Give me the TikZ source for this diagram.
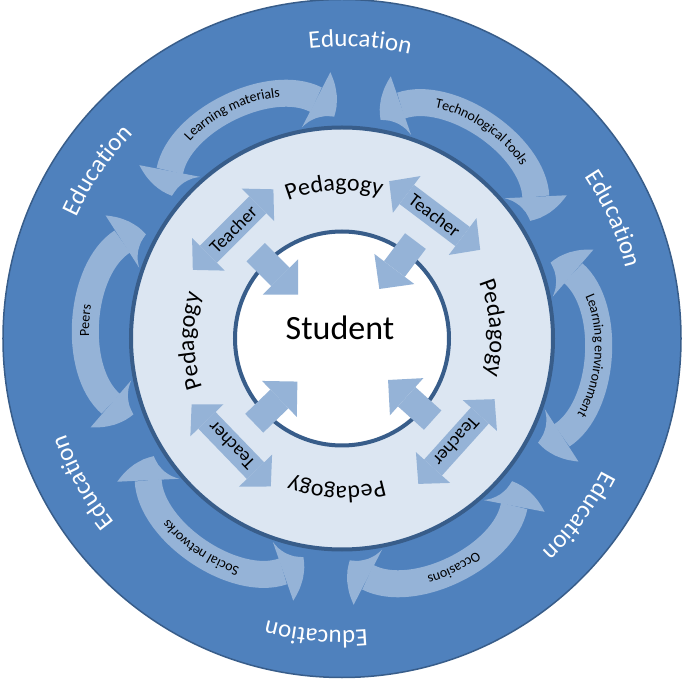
\documentclass[tikz,border=0pt]{standalone}
\usepackage{fontspec}
\setmainfont{Carlito}
\usepackage{xcolor}
\usepackage{tikz}
\usetikzlibrary{arrows.meta, bending, calc, decorations.text}
\definecolor{ringblue}{RGB}{79,129,189}
\definecolor{arrowblue}{RGB}{149,179,215}
\definecolor{paleblue}{RGB}{220,230,242}
\definecolor{edgeblue}{RGB}{56,93,138}

\newcommand{\bowarrow}[2]{%
  \begin{scope}[rotate=#1]
    \draw[bow] (24:222) .. controls (275,84) and (275,-84) .. (-24:222);
    \path[decorate, decoration={text along path, text align=center, raise=-3.8pt,
        text={|\fontsize{14}{16}\selectfont|#2}}]
      (24:222) .. controls (275,84) and (275,-84) .. (-24:222);
  \end{scope}}

\newcommand{\arclabel}[4]{%
  \path[decorate, decoration={text along path, text align=center, text={|#3|#4}}]
    (#1+40:#2) arc [start angle=#1+40, end angle=#1-40, radius=#2];}

\begin{document}
\begin{tikzpicture}[x=1pt, y=1pt,
    bow/.style={arrowblue, line width=27pt,
      {Triangle[width=62pt, length=26pt, line width=0pt, bend]}-{Triangle[width=62pt, length=26pt, line width=0pt, bend]}},
    teacherarrow/.style={arrowblue, line width=24pt,
      {Triangle[width=46pt, length=22pt, line width=0pt]}-{Triangle[width=46pt, length=22pt, line width=0pt]}},
    studentarrow/.style={arrowblue, line width=26pt, -{Triangle[width=50pt, length=25pt, line width=0pt]}}]

  \useasboundingbox (-342,-340.5) rectangle (343,338.5);
  \coordinate (O) at (0,0);

  \draw[edgeblue, fill=ringblue, line width=1.5pt] (O) circle [radius=339];

  \bowarrow{116}{Learning materials}
  \bowarrow{56}{Technological tools}
  \bowarrow{-4}{Learning environment}
  \bowarrow{-64}{Occasions}
  \bowarrow{-124}{Social networks}
  \bowarrow{176}{Peers}

  \foreach \a in {86.5, 145.5, 23.8, -36.9, -95, -151}
    \arclabel{\a}{292}{\color{white}\fontsize{25}{30}\selectfont}{Education};

  \draw[edgeblue, fill=paleblue, line width=4pt] (O) circle [radius=211];

  \foreach \a in {135, 53, -42, -136} {
    \draw[teacherarrow] ($(\a:154)+(\a+90:57)$) -- ($(\a:154)+(\a-90:57)$);
    \node[rotate=\a-90, font=\fontsize{18.5}{22}\selectfont] (teacher\a) at (\a:154) {Teacher};
  }

  \draw[edgeblue, fill=white, line width=4pt] (O) circle [radius=107];

  \foreach \a in {135, 53, -42, -136}
    \draw[studentarrow] (\a:122) -- (\a:62);

  \foreach \a in {93, 4, -92, 181}
    \arclabel{\a}{148}{\fontsize{24}{28}\selectfont}{Pedagogy};

  \node[font=\fontsize{34}{40}\selectfont] (student) at (-2,11) {Student};
\end{tikzpicture}
\end{document}
